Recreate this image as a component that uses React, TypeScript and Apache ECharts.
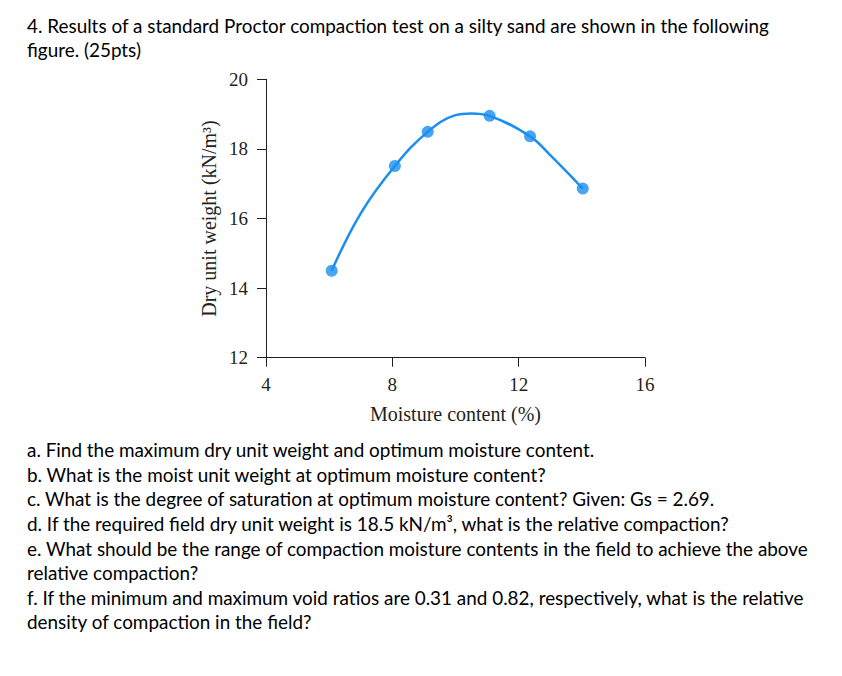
import React, { useEffect, useRef } from "react";
import * as echarts from "echarts";

// measured points (moisture %, dry unit weight kN/m3)
const pointMoisture = [6.08, 8.08, 9.12, 11.08, 12.36, 14.03];
const pointWeight = [14.5, 17.51, 18.49, 18.95, 18.36, 16.86];

// compaction curve as drawn in the figure
const curveMoisture = [6.08, 7, 8.08, 9.12, 10, 10.5, 11.08, 12.36, 13, 14.03];
const curveWeight = [14.5, 16.15, 17.51, 18.49, 18.97, 19.02, 18.95, 18.36, 17.82, 16.86];

const headingLines = [
  "4. Results of a standard Proctor compaction test on a silty sand are shown in the following",
  "figure. (25pts)",
];

const questionLines = [
  "a. Find the maximum dry unit weight and optimum moisture content.",
  "b. What is the moist unit weight at optimum moisture content?",
  "c. What is the degree of saturation at optimum moisture content? Given: Gs = 2.69.",
  "d. If the required field dry unit weight is 18.5 kN/m³, what is the relative compaction?",
  "e. What should be the range of compaction moisture contents in the field to achieve the above",
  "relative compaction?",
  "f. If the minimum and maximum void ratios are 0.31 and 0.82, respectively, what is the relative",
  "density of compaction in the field?",
];

const BLUE = "#1a8ff0";
const AXIS = "#231f20";
const SERIF = "'Liberation Serif', 'Times New Roman', serif";
const SANS = "Lato, 'Liberation Sans', sans-serif";

const App: React.FC = () => {
  const chartRef = useRef<HTMLDivElement>(null);

  useEffect(() => {
    if (!chartRef.current) return;
    const chart = echarts.init(chartRef.current, undefined, { renderer: "svg" });

    const textLine = (text: string, y: number) => ({
      type: "text",
      x: 27,
      y,
      style: { text, font: `18.9px ${SANS}`, fill: "#000", verticalAlign: "middle" },
    });

    const option: any = {
      animation: false,
      backgroundColor: "#fff",
      grid: { left: 266, top: 79.3, right: 197, bottom: 318.3 },
      xAxis: {
        type: "value",
        min: 4,
        max: 16,
        interval: 4,
        name: "Moisture content (%)",
        nameLocation: "middle",
        nameGap: 46,
        nameTextStyle: { fontFamily: SERIF, fontSize: 20, color: AXIS },
        axisLine: { show: true, onZero: false, lineStyle: { color: AXIS, width: 1 } },
        axisTick: { show: true, length: 9, lineStyle: { color: AXIS, width: 1 } },
        axisLabel: { fontFamily: SERIF, fontSize: 19, color: AXIS, margin: 17 },
        splitLine: { show: false },
      },
      yAxis: {
        type: "value",
        min: 12,
        max: 20,
        interval: 2,
        name: "Dry unit weight (kN/m³)",
        nameLocation: "middle",
        nameGap: 47,
        nameTextStyle: { fontFamily: SERIF, fontSize: 20, color: AXIS },
        axisLine: { show: true, onZero: false, lineStyle: { color: AXIS, width: 1 } },
        axisTick: { show: true, length: 9, lineStyle: { color: AXIS, width: 1 } },
        axisLabel: { fontFamily: SERIF, fontSize: 19, color: AXIS, margin: 18 },
        splitLine: { show: false },
      },
      series: [
        {
          type: "line",
          data: curveMoisture.map((m, i) => [m, curveWeight[i]]),
          smooth: 0.4,
          showSymbol: false,
          lineStyle: { color: BLUE, width: 2.5 },
          silent: true,
        },
        {
          type: "scatter",
          data: pointMoisture.map((m, i) => [m, pointWeight[i]]),
          symbolSize: 12,
          itemStyle: { color: BLUE },
        },
      ],
      graphic: [
        ...headingLines.map((t, i) => textLine(t, 25 + i * 24)),
        ...questionLines.map((t, i) => textLine(t, 449.7 + i * 24.6)),
      ],
    };

    chart.setOption(option);

    const handleResize = () => chart.resize();
    window.addEventListener("resize", handleResize);
    return () => {
      window.removeEventListener("resize", handleResize);
      chart.dispose();
    };
  }, []);

  return (
    <div
      ref={chartRef}
      style={{ position: "absolute", left: 0, top: 0, width: "842px", height: "676px" }}
    />
  );
};

export default App;
